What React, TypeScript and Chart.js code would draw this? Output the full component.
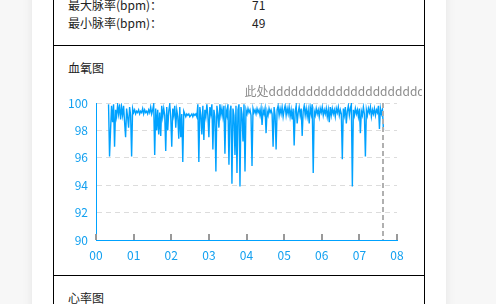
import React, { useEffect, useRef } from 'react';
import { Chart, registerables } from 'chart.js';

Chart.register(...registerables);

const statLabels = ['最大脉率(bpm)：', '最小脉率(bpm)：'];
const statValues = ['71', '49'];
const chartTitle = '血氧图';
const nextTitle = '心率图';
const hourLabels = ['00', '01', '02', '03', '04', '05', '06', '07', '08'];
const yMin = 90;
const yMax = 100;
const yStep = 2;
const startMinute = 20;
const stepMinutes = 1.6;
const markLineMinute = 458;
const markLineLabel = '此处dddddddddddddddddddddddddddddddddd';

const spo2Values = [
  // 00:20 - 01:00
  99.9, 96.1, 98.0, 99.8, 98.6, 99.9, 96.8, 99.5, 99.0, 99.8, 99.2, 99.9, 98.8, 99.7, 99.1, 99.8, 98.6, 97.5, 99.6, 99.0, 98.2, 99.7, 99.1, 96.1,
  99.6, 99.3, 99.5, 99.2, 99.4, 99.3, 99.5, 99.2, 99.4, 99.3, 99.6, 99.2, 99.5, 99.3, 99.4, 99.2, 99.5, 99.3, 99.7, 99.2, 99.5,
  // 01:20 - 02:30
  99.9, 96.2, 99.6, 98.0, 99.5, 97.7, 99.3, 97.6, 99.8, 99.0, 99.6, 99.1, 96.5, 99.7, 98.0, 99.4, 99.9, 99.0, 96.8, 99.6, 99.1, 99.8, 98.2, 99.5, 99.0, 97.4, 99.7, 97.5, 99.2, 95.7, 99.4,
  99.2, 99.0, 99.2, 99.1, 99.2, 99.0, 99.1, 99.2, 99.0, 99.2, 99.1, 99.2, 99.0,
  // 02:50 - 04:10
  99.9, 95.7, 99.7, 99.1, 97.7, 99.8, 97.3, 99.5, 99.0, 99.9, 99.1, 97.5, 99.7, 99.2, 99.9, 96.6, 99.5, 99.0, 95.0, 99.8, 99.2, 98.2, 99.9, 99.1,
  99.6, 99.0, 99.8, 96.3, 99.5, 99.1, 99.9, 95.5, 99.4, 99.8, 94.1, 99.6, 99.1, 96.2, 99.8, 94.9, 99.5, 99.9, 93.9, 99.7, 99.2, 97.2, 99.9,
  // 04:10 - 04:40
  95.0, 99.5, 99.2, 99.6, 99.3, 99.5, 99.1, 95.4, 99.6, 99.3, 99.5, 99.2, 99.6, 99.3, 99.5, 99.1, 99.6, 98.4, 99.5, 99.2, 99.6, 97.8, 99.4, 99.1, 99.6, 99.3, 99.5, 99.2,
  // 04:40 - 05:50
  96.8, 99.7, 99.1, 96.6, 99.5, 99.8, 99.1, 99.6, 99.2, 99.7, 99.0, 99.5, 99.8, 99.1, 99.6, 99.2, 99.7, 99.0, 99.5, 98.8,
  99.6, 96.9, 99.4, 99.8, 98.5, 99.3, 99.7, 99.1, 99.6, 97.6, 99.4, 99.8, 99.1, 99.6, 99.0, 99.5, 98.5, 99.7, 99.2, 99.9,
  94.9, 99.4,
  // 05:50 - 06:50
  99.1, 99.6, 99.2, 99.5, 99.0, 99.6, 99.3, 99.7, 99.1, 99.5, 99.2, 99.6, 99.0, 99.5, 98.6, 99.7, 99.1, 99.6,
  99.2, 99.5, 99.0, 99.6, 99.3, 99.7, 99.1, 99.5, 99.2, 95.9, 99.6, 99.1, 99.7, 98.5, 99.4, 99.8, 99.1, 99.6,
  99.9, 93.9, 99.5,
  // 06:50 - 07:38
  99.1, 99.6, 99.2, 99.5, 99.0, 99.6, 97.8, 99.4, 99.1, 99.7, 99.2, 96.1, 99.5, 99.1, 99.6,
  99.3, 99.7, 99.0, 99.5, 99.2, 99.6, 99.1, 99.5, 99.3, 99.8, 98.1, 99.6, 99.2, 99.5, 98.0,
];

const FONT = "'Noto Sans CJK SC', 'Noto Sans', sans-serif";
const BLUE = '#00a2ff';
const AXIS_TEXT = '#12a0f0';

const overlayPlugin = {
  id: 'overlay',
  afterDatasetsDraw(chart: any) {
    const { ctx, chartArea, scales } = chart;
    const xs = scales.x;
    ctx.save();
    // inward tick marks on x axis
    ctx.strokeStyle = '#999';
    ctx.lineWidth = 2;
    hourLabels.forEach((_, i) => {
      const px = Math.round(xs.getPixelForValue(i * 60));
      ctx.beginPath();
      ctx.moveTo(px, chartArea.bottom);
      ctx.lineTo(px, chartArea.bottom - 6);
      ctx.stroke();
    });
    // mark line
    const mx = Math.round(xs.getPixelForValue(markLineMinute));
    ctx.setLineDash([5, 3]);
    ctx.strokeStyle = '#b0b0b0';
    ctx.lineWidth = 2;
    ctx.beginPath();
    ctx.moveTo(mx, chartArea.top);
    ctx.lineTo(mx, chartArea.bottom);
    ctx.stroke();
    ctx.setLineDash([]);
    ctx.fillStyle = '#8c8c8c';
    ctx.font = `12px ${FONT}`;
    ctx.textAlign = 'center';
    ctx.textBaseline = 'middle';
    ctx.fillText(markLineLabel, mx, chartArea.top - 12);
    ctx.restore();
  },
};

function SpO2Chart() {
  const ref = useRef<HTMLCanvasElement | null>(null);
  useEffect(() => {
    if (!ref.current) return;
    const data = spo2Values.map((v, i) => ({ x: startMinute + i * stepMinutes, y: v }));
    const chart = new Chart(ref.current, {
      type: 'line',
      data: {
        datasets: [
          {
            data,
            borderColor: BLUE,
            borderWidth: 1.4,
            pointRadius: 0,
            tension: 0,
            fill: false,
          },
        ],
      },
      options: {
        animation: false,
        responsive: false,
        devicePixelRatio: 1,
        events: [],
        layout: { padding: { left: 0, right: 25, top: 23, bottom: 0 } },
        plugins: { legend: { display: false }, tooltip: { enabled: false } },
        scales: {
          x: {
            type: 'linear',
            min: 0,
            max: hourLabels.length * 60 - 60,
            afterFit: (s: any) => {
              s.height = 30;
            },
            grid: { display: false, drawTicks: false },
            border: { display: true, color: BLUE, width: 1 },
            ticks: {
              stepSize: 60,
              padding: 8,
              color: AXIS_TEXT,
              font: { family: FONT, size: 12 },
              maxRotation: 0,
              callback: (v: any) => hourLabels[Math.round(Number(v) / 60)] ?? '',
            },
          },
          y: {
            min: yMin,
            max: yMax,
            afterFit: (s: any) => {
              s.width = 42;
            },
            grid: {
              drawTicks: false,
              color: (c: any) => (c.tick && c.tick.value === yMin ? 'rgba(0,0,0,0)' : '#dcdcdc'),
              lineWidth: 1,
            },
            border: { display: true, color: BLUE, width: 1, dash: [5, 4] },
            ticks: {
              stepSize: yStep,
              padding: 8,
              color: AXIS_TEXT,
              font: { family: FONT, size: 12 },
            },
          },
        },
      },
      plugins: [overlayPlugin],
    } as any);
    return () => chart.destroy();
  }, []);
  return (
    <canvas
      ref={ref}
      width={368}
      height={190}
      style={{ position: 'absolute', left: 54, top: 80, width: 368, height: 190 }}
    />
  );
}

export default function App() {
  const textStyle: React.CSSProperties = {
    position: 'absolute',
    fontSize: 12,
    lineHeight: '16px',
    color: '#222',
    whiteSpace: 'nowrap',
  };
  return (
    <div
      style={{
        position: 'absolute',
        left: 0,
        top: 0,
        width: 496,
        height: 304,
        overflow: 'hidden',
        background: '#f7f7f7',
        fontFamily: FONT,
      }}
    >
      <div
        style={{
          position: 'absolute',
          left: 32,
          top: -20,
          width: 414,
          height: 360,
          background: '#fff',
          boxShadow: '0 0 10px rgba(0,0,0,0.08)',
        }}
      />
      {/* outer box */}
      <div
        style={{
          position: 'absolute',
          left: 53,
          top: -60,
          width: 370,
          height: 400,
          borderLeft: '1px solid #000',
          borderRight: '1px solid #000',
        }}
      />
      <div style={{ position: 'absolute', left: 53, top: 45, width: 372, height: 1, background: '#000' }} />
      <div style={{ position: 'absolute', left: 53, top: 275, width: 372, height: 1, background: '#000' }} />
      {statLabels.map((l, i) => (
        <React.Fragment key={l}>
          <span style={{ ...textStyle, left: 68, top: -3 + i * 18 }}>{l}</span>
          <span style={{ ...textStyle, left: 252, top: -3 + i * 18 }}>{statValues[i]}</span>
        </React.Fragment>
      ))}
      <span style={{ ...textStyle, left: 68, top: 60 }}>{chartTitle}</span>
      <span style={{ ...textStyle, left: 68, top: 290 }}>{nextTitle}</span>
      <SpO2Chart />
    </div>
  );
}
